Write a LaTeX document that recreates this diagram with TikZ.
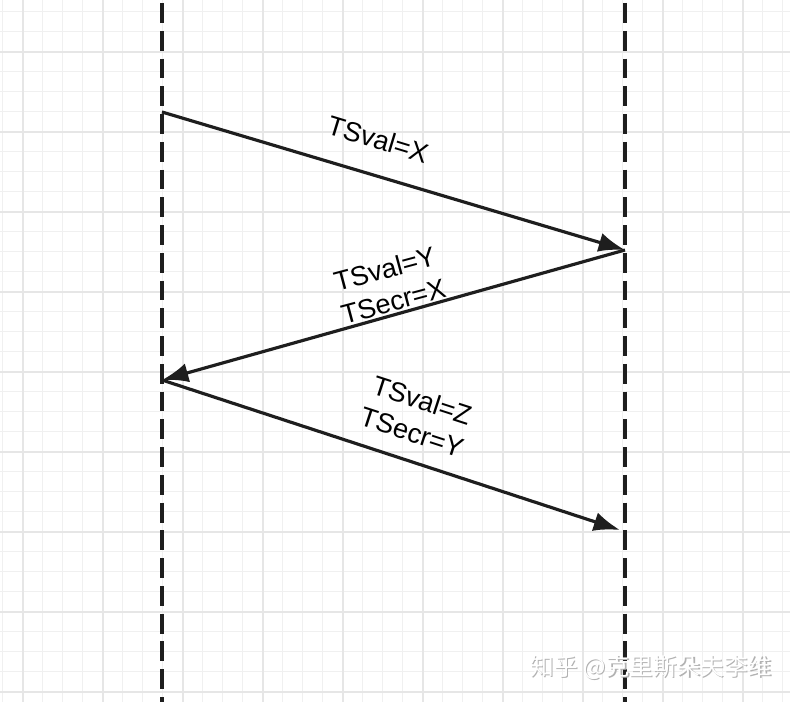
\documentclass[tikz,border=0pt]{standalone}
\usepackage{fontspec}
\setmainfont{Liberation Sans}
\newfontfamily\cjkfont{Noto Sans CJK SC}
\usetikzlibrary{arrows.meta}
\definecolor{gridminor}{HTML}{F0F0F0}
\definecolor{gridmajor}{HTML}{E6E6E6}
\definecolor{ink}{HTML}{1E1E1E}

\begin{document}
\begin{tikzpicture}[x=0.02cm,y=-0.02cm,
  minor/.style={draw=gridminor,line width=0.85pt},
  major/.style={draw=gridmajor,line width=1.1pt},
  lifeline/.style={draw=ink,line width=2pt,dash pattern=on 11.3pt off 4.5pt},
  msg/.style={draw=ink,line width=1.8pt,-{Latex[length=15pt,width=11pt]}},
  lbl/.style={font=\fontsize{15.5}{19}\selectfont,align=center,text=black,inner sep=0pt},
  wmtext/.style={font=\cjkfont\fontsize{13.5}{16}\selectfont,inner sep=0pt}]
\useasboundingbox (0,0) rectangle (790,702);
\fill[white] (0,0) rectangle (790,702);
\foreach \x in {0,...,39} \draw[minor] (2.7+20*\x,0) -- (2.7+20*\x,702);
\foreach \y in {0,...,34} \draw[minor] (0,11.7+20*\y) -- (790,11.7+20*\y);
\foreach \x in {0,...,9} \draw[major] (22.7+80*\x,0) -- (22.7+80*\x,702);
\foreach \y in {0,...,8} \draw[major] (0,51.7+80*\y) -- (790,51.7+80*\y);

\coordinate (atop) at (162,3);
\coordinate (abot) at (162,702);
\coordinate (btop) at (625,3);
\coordinate (bbot) at (625,702);
\draw[lifeline] (atop) -- (abot);
\draw[lifeline] (btop) -- (bbot);

\coordinate (a1) at (162,112);
\coordinate (b1) at (625,250);
\coordinate (a2) at (162,380);
\coordinate (b2) at (620,530);
\draw[msg] (a1) -- (b1);
\draw[msg] (b1) -- (a2);
\draw[msg] (a2) -- (b2);

\node[lbl,rotate=-17] (val1) at (378,139) {TSval=X};
\node[lbl,rotate=15] (val2) at (389,285) {TSval=Y\\TSecr=X};
\node[lbl,rotate=-18] (val3) at (417,416) {TSval=Z\\TSecr=Y};

\node[wmtext,text=gray!60] (wmshadow) at (652.5,669) {知乎 @克里斯朵夫李维};
\node[wmtext,text=white] (wm) at (651,667.5) {知乎 @克里斯朵夫李维};
\end{tikzpicture}
\end{document}
